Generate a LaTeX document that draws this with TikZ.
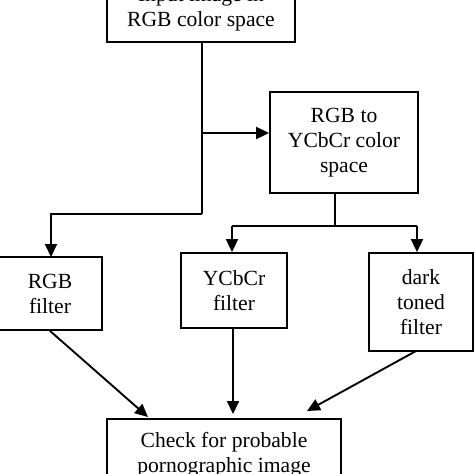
\documentclass[tikz,border=0pt]{standalone}
\usepackage{fontspec}
\setmainfont{Liberation Serif}
\usetikzlibrary{arrows.meta}
\begin{document}
\begin{tikzpicture}[x=1pt,y=-1pt,
  box/.style={draw,line width=1.8pt,align=center,inner sep=0pt,
    font=\fontsize{21.6}{25}\selectfont},
  conn/.style={line width=1.9pt},
  arr/.style={conn,-{Triangle[length=13pt,width=12pt]}}]
\useasboundingbox (0,0) rectangle (474,474);
\clip (0,0) rectangle (474,474);
\fill[white] (0,0) rectangle (474,474);
\node[box,minimum width=188pt,minimum height=65pt] (in) at (201,9.5) {Input image in\\RGB color space};
\node[box,minimum width=148pt,minimum height=101pt] (conv) at (344,142.5) {RGB to\\YCbCr color\\space};
\node[box,minimum width=104pt,minimum height=73pt] (rgbf) at (50,293.5) {RGB\\filter};
\node[box,minimum width=106pt,minimum height=75pt] (ycf) at (234,290.5) {YCbCr\\filter};
\node[box,minimum width=104pt,minimum height=98pt] (dark) at (421,302) {dark\\toned\\filter};
\node[box,minimum width=234pt,minimum height=71pt] (chk) at (224,454.5) {Check for probable\\pornographic image};
\coordinate (t1) at (202,214);
\coordinate (j1) at (202,133);
\coordinate (c1) at (335,226);
\coordinate (l1) at (232,226);
\coordinate (r1) at (417,226);
\draw[conn] (in.south -| t1) -- (t1);
\draw[arr] (t1) -| (51,257) coordinate (a1);
\draw[arr] (j1) -- (j1 -| conv.west);
\draw[conn] (conv.south -| c1) -- (c1);
\draw[conn] (l1) -- (r1);
\draw[arr] (l1) -- (l1 |- ycf.north);
\draw[arr] (r1) -- (r1 |- dark.north);
\draw[arr] (rgbf.south) -- (148,417);
\draw[arr] (233,328) -- (233,414);
\draw[arr] (416,351) -- (307,411);
\end{tikzpicture}
\end{document}
